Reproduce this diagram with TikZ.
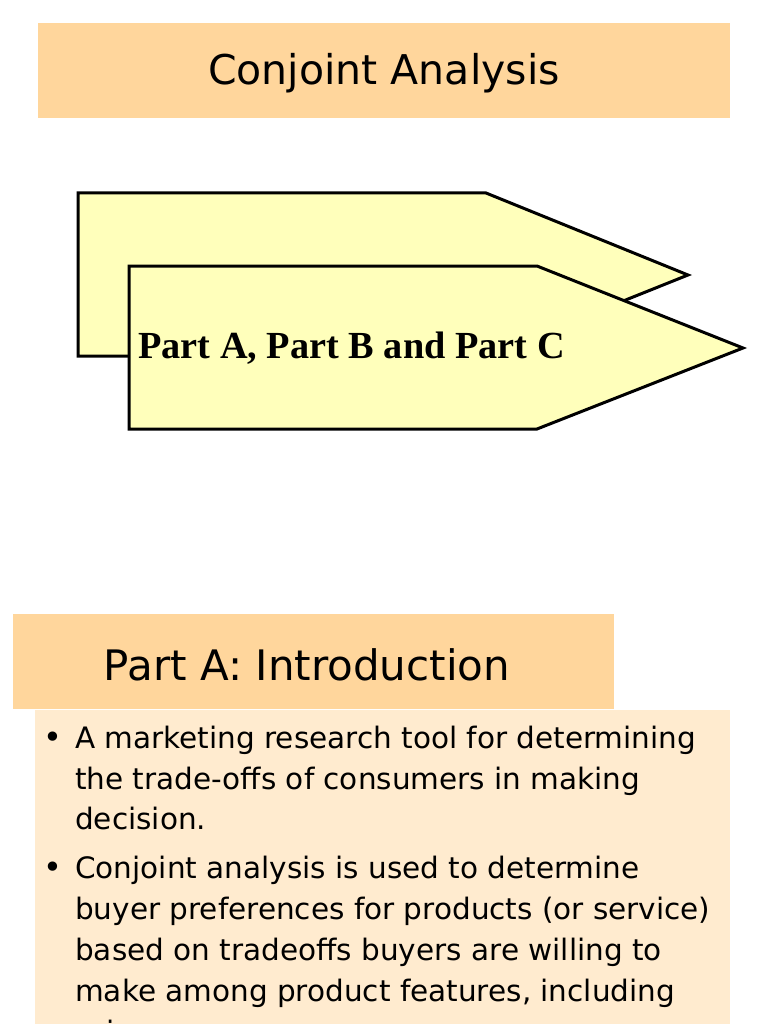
\documentclass[tikz,border=0pt]{standalone}
\usepackage{fontspec}
\setmainfont{DejaVu Sans}
\newfontfamily\serifb{Liberation Serif}
\definecolor{hdr}{HTML}{FFD69C}
\definecolor{arr}{HTML}{FFFFBB}
\definecolor{body}{HTML}{FFEBCF}
\begin{document}
\begin{tikzpicture}[x=1pt,y=-1pt,
  line/.style={anchor=base west,inner sep=0pt,font=\fontsize{29.5}{36}\selectfont},
  bul/.style={anchor=base west,inner sep=0pt,font=\fontsize{32}{36}\selectfont}]
\useasboundingbox (0,0) rectangle (768,1024);
\clip (0,0) rectangle (768,1024);
\fill[hdr] (38,23) rectangle (730,118);
\node (title) at (384,73) {\fontsize{41}{50}\selectfont Conjoint Analysis};
\draw[line width=3pt,fill=arr] (78,193) -- (486,193) -- (688,275) -- (486,356) -- (78,356) -- cycle;
\draw[line width=3pt,fill=arr] (129,266) -- (537,266) -- (743,348) -- (537,429) -- (129,429) -- cycle;
\node[anchor=west,inner sep=0pt] (parts) at (138,348) {\serifb\bfseries\fontsize{38.3}{44}\selectfont Part A, Part B and Part C};
\fill[hdr] (13,614) rectangle (614,709);
\node (pa) at (307,665) {\fontsize{42}{52}\selectfont Part A: Introduction};
\fill[body] (35,710) rectangle (730,1030);
\node[bul] (b1) at (43,748) {•};
\node[line] (l1) at (75,748) {A marketing research tool for determining};
\node[line] (l2) at (75,789) {the trade-offs of consumers in making};
\node[line] (l3) at (75,829) {decision.};
\node[bul] (b2) at (43,878) {•};
\node[line] (l4) at (75,878) {Conjoint analysis is used to determine};
\node[line] (l5) at (75,919) {buyer preferences for products (or service)};
\node[line] (l6) at (75,960) {based on tradeoffs buyers are willing to};
\node[line] (l7) at (75,1001) {make among product features, including};
\node[line] (l8) at (75,1042) {price.};
\end{tikzpicture}
\end{document}
